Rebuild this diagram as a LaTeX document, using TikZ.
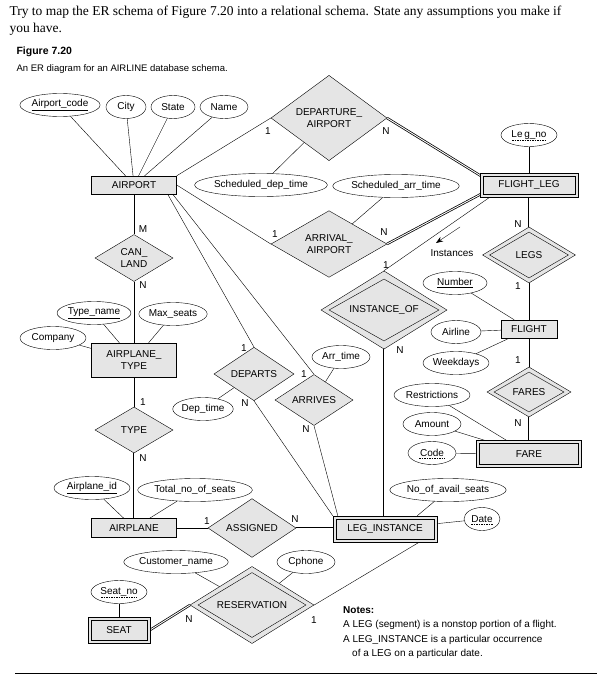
\documentclass[tikz,border=0pt]{standalone}
\usepackage{fontspec}
\setmainfont{Liberation Serif}
\newfontfamily\dsans{Liberation Sans}
\usetikzlibrary{shapes.geometric,arrows.meta}
\definecolor{eg}{gray}{0.9}
\begin{document}
\begin{tikzpicture}[x=1pt,y=-1pt,font=\dsans\fontsize{10}{12}\selectfont,
 ent/.style={draw,fill=eg,minimum width=#1,minimum height=18,inner sep=0pt},
 went/.style={draw,fill=eg,minimum width=#1,minimum height=24,inner sep=0pt},
 inbox/.style n args={2}{draw,minimum width=#1,minimum height=#2,inner sep=0pt},
 attr/.style={draw,fill=white,ellipse,minimum width=#1,minimum height=23,inner sep=0pt},
 rel/.style n args={2}{draw,fill=eg,diamond,minimum width=#1,minimum height=#2,inner sep=0pt,align=center},
 india/.style n args={2}{draw,diamond,minimum width=#1,minimum height=#2,inner sep=0pt},
 dlo/.style={line width=2.4pt},
 dli/.style={white,line width=0.9pt},
 card/.style={inner sep=0pt},
 pk/.style={dash pattern=on 1.5pt off 1pt},
]
\useasboundingbox (0,0) rectangle (602,685);
\node[anchor=west,font=\fontsize{13.5}{15}\selectfont] (t1) at (6,12) {Try to map the ER schema of Figure 7.20 into a relational schema. State any assumptions you make if};
\node[anchor=west,font=\fontsize{13.5}{15}\selectfont] (t2) at (6,29) {you have.};
\node[anchor=west,font=\dsans\bfseries\fontsize{10.5}{12}\selectfont] (fig) at (13,52) {Figure 7.20};
\node[anchor=west,font=\dsans\fontsize{9.5}{11}\selectfont] (cap) at (13,69) {An ER diagram for an AIRLINE database schema.};

% double connectors (drawn first, nodes cover ends)
\coordinate (p1) at (384,346); \coordinate (p2) at (384,516);
\coordinate (p3) at (134,453); \coordinate (p4) at (134,519);
\coordinate (p5) at (529,417); \coordinate (p6) at (529,441);
\coordinate (p7) at (529,197); \coordinate (p8) at (529,227);
\coordinate (p9) at (296,528); \coordinate (p10) at (333,528);
\coordinate (p11) at (190,605); \coordinate (p12) at (150,630);
\coordinate (p13) at (387,118); \coordinate (p14) at (481,176);
\coordinate (p15) at (387,244); \coordinate (p16) at (481,194);
\foreach \a/\b in {p1/p2,p3/p4,p5/p6,p7/p8,p9/p10,p11/p12,p13/p14,p15/p16}{
  \draw[dlo] (\a) -- (\b); \draw[dli] (\a) -- (\b);}

% entities
\node[ent=85] (airport) at (134,185) {AIRPORT};
\node[went=98] (fleg) at (529,185) {FLIGHT\_LEG};
\node[inbox={92}{18}] (flegi) at (529,185) {};
\node[ent=85,minimum height=34,align=center] (atype) at (134,360) {AIRPLANE\_\\TYPE};
\node[ent=56] (flight) at (529,329) {FLIGHT};
\node[went=105,minimum height=27] (fare) at (529,454) {FARE};
\node[inbox={99}{21}] (farei) at (529,454) {};
\node[ent=85,minimum height=19] (airplane) at (134,528) {AIRPLANE};
\node[went=104,minimum height=26] (legi) at (385,529) {LEG\_INSTANCE};
\node[inbox={98}{20}] (legii) at (385,529) {};
\node[went=62,minimum height=26] (seat) at (119,630) {SEAT};
\node[inbox={56}{20}] (seati) at (119,630) {};

% relationships
\node[rel={116}{70}] (dep) at (329,118) {DEPARTURE\_\\AIRPORT};
\node[rel={116}{66}] (arr) at (329,244) {ARRIVAL\_\\AIRPORT};
\node[rel={93}{56}] (legs) at (529,255) {LEGS};
\node[india={79}{46}] (legsi) at (529,255) {};
\node[rel={78}{47}] (canland) at (134,258) {CAN\_\\LAND};
\node[rel={126}{72}] (instof) at (384,310) {INSTANCE\_OF};
\node[india={110}{62}] (instofi) at (384,310) {};
\node[rel={84}{50}] (fares) at (529,392) {FARES};
\node[india={70}{40}] (faresi) at (529,392) {};
\node[rel={80}{46}] (departs) at (254,374) {DEPARTS};
\node[rel={78}{46}] (arrives) at (314,400) {ARRIVES};
\node[rel={78}{46}] (typer) at (134,430) {TYPE};
\node[rel={88}{48}] (assigned) at (252,528) {ASSIGNED};
\node[rel={124}{75}] (res) at (252,605) {RESERVATION};
\node[india={108}{65}] (resi) at (252,605) {};

% attributes
\node[attr=80] (ac) at (60,105) {\underline{Airport\_code}};
\node[attr=40] (city) at (126,107) {City};
\node[attr=44] (state) at (173,107) {State};
\node[attr=48] (name) at (224,107) {Name};
\node[attr=128] (sdt) at (261,185) {Scheduled\_dep\_time};
\node[attr=124] (sat) at (396,186) {Scheduled\_arr\_time};
\node[attr=56] (legno) at (529,135) {Le\,g\_no};
\draw[pk] ([xshift=-17,yshift=-5]legno.center) -- ([xshift=17,yshift=-5]legno.center);
\node[attr=64] (number) at (455,283) {\underline{Number}};
\node[attr=50] (airline) at (456,332) {Airline};
\node[attr=66] (weekdays) at (456,363) {Weekdays};
\node[attr=68] (tname) at (94,313) {\underline{Type\_name}};
\node[attr=68] (maxs) at (173,314) {Max\_seats};
\node[attr=66] (company) at (53,338) {Company};
\node[attr=58] (arrtime) at (341,357) {Arr\_time};
\node[attr=58] (deptime) at (203,409) {Dep\_time};
\node[attr=76] (restr) at (432,395) {Restrictions};
\node[attr=58] (amount) at (432,424) {Amount};
\node[attr=48] (code) at (432,453) {Code};
\draw[pk] ([xshift=-13,yshift=-5]code.center) -- ([xshift=13,yshift=-5]code.center);
\node[attr=76] (aid) at (92,488) {\underline{Airplane\_id}};
\node[attr=112] (tns) at (195,490) {Total\_no\_of\_seats};
\node[attr=104] (noavail) at (448,490) {No\_of\_avail\_seats};
\node[attr=36] (date) at (482,519) {Date};
\draw[pk] ([xshift=-11,yshift=-5]date.center) -- ([xshift=11,yshift=-5]date.center);
\node[attr=96] (cname) at (176,562) {Customer\_name};
\node[attr=58] (cphone) at (306,562) {Cphone};
\node[attr=56] (seatno) at (119,592) {Seat\_no};
\draw[pk] ([xshift=-18,yshift=-5]seatno.center) -- ([xshift=18,yshift=-5]seatno.center);

% single connectors
\foreach \a in {ac,city,state,name} \draw (\a) -- (airport);
\draw (airport.north east) -- (dep.west);
\draw (dep) -- (sdt);
\draw (airport.east) -- (arr.west);
\draw (arr) -- (sat);
\draw (legno) -- (fleg);
\draw (legs) -- (flight);
\draw (flight) -- (fares);
\draw ([xshift=10]fleg.south west) -- (instof.north);
\foreach \a in {number,airline,weekdays} \draw (\a) -- (flight);
\foreach \a in {restr,amount,code} \draw (\a) -- (fare);
\draw (airport) -- (canland);
\draw (canland) -- (atype);
\foreach \a in {tname,maxs,company} \draw (\a) -- (atype);
\draw (atype) -- (typer);
\foreach \a in {aid,tns} \draw (\a) -- (airplane);
\draw ([xshift=-9]airport.south east) -- (departs.north);
\draw (departs.south) -- (legi.north west);
\draw (deptime) -- (departs);
\draw ([xshift=-4]airport.south east) -- (arrives.north);
\draw (arrives.south) -- ([xshift=5]legi.north west);
\draw (arrtime) -- (arrives);
\draw (airplane) -- (assigned);
\draw (noavail) -- ([xshift=-20]legi.north east);
\draw (date) -- (legi);
\draw ([xshift=-18]legi.south east) -- (res.east);
\draw (cname) -- (res);
\draw (cphone) -- (res);
\draw (seatno) -- (seat);

% cardinalities
\node[card] (c1) at (268,131) {1};
\node[card] (c2) at (386,131) {N};
\node[card] (c3) at (275,234) {1};
\node[card] (c4) at (384,232) {N};
\node[card] (c5) at (143,229) {M};
\node[card] (c6) at (143,285) {N};
\node[card] (c7) at (518,224) {N};
\node[card] (c8) at (518,286) {1};
\node[card] (c9) at (386,265) {1};
\node[card] (c10) at (400,350) {N};
\node[card] (c11) at (518,360) {1};
\node[card] (c12) at (518,423) {N};
\node[card] (c13) at (244,348) {1};
\node[card] (c14) at (304,374) {1};
\node[card] (c15) at (245,403) {N};
\node[card] (c16) at (306,429) {N};
\node[card] (c17) at (143,402) {1};
\node[card] (c18) at (143,458) {N};
\node[card] (c19) at (207,521) {1};
\node[card] (c20) at (295,519) {N};
\node[card] (c21) at (189,619) {N};
\node[card] (c22) at (314,620) {1};
\node (inst) at (452,253) {Instances};
\coordinate (ia) at (460,227);
\coordinate (ib) at (436,243);
\draw[-{Stealth[length=7pt]}] (ia) -- (ib);

% notes
\node[anchor=north west,align=left,inner sep=0pt,font=\dsans\fontsize{10}{14.5}\selectfont] (notes) at (343,606) {\textbf{Notes:}\\A LEG (segment) is a nonstop portion of a flight.\\A LEG\_INSTANCE is a particular occurrence\\\hspace*{9pt}of a LEG on a particular date.};
\coordinate (r1) at (15,673);
\coordinate (r2) at (597,673);
\draw[line width=0.8pt] (r1) -- (r2);
\end{tikzpicture}
\end{document}
